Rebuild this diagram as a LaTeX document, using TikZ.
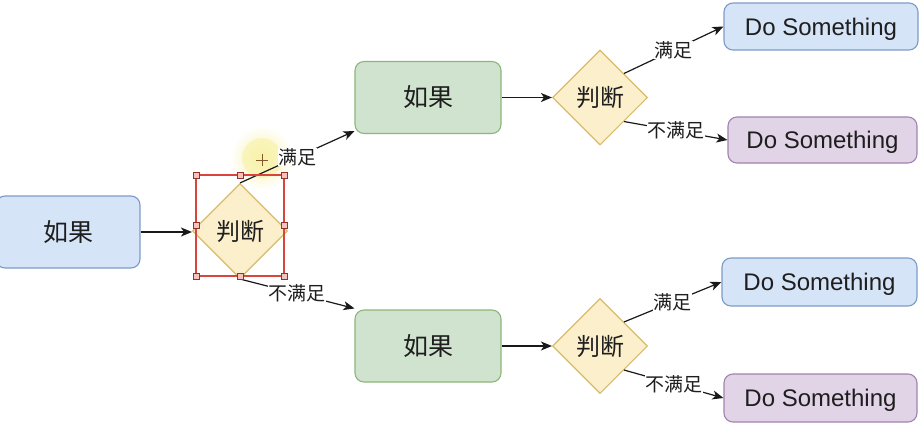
\documentclass[tikz,border=0pt]{standalone}
\usepackage{fontspec}
\setmainfont{Liberation Sans}
\newfontfamily\cjk{Noto Sans CJK SC}
\usetikzlibrary{shapes.geometric,arrows.meta,calc}
\definecolor{bluefill}{HTML}{D6E4F7}
\definecolor{blueline}{HTML}{7C9CC8}
\definecolor{greenfill}{HTML}{CFE3CE}
\definecolor{greenline}{HTML}{8DB77A}
\definecolor{yellowfill}{HTML}{FCEFCB}
\definecolor{yellowline}{HTML}{D8BC6A}
\definecolor{purplefill}{HTML}{E0D4E6}
\definecolor{purpleline}{HTML}{A184B0}
\definecolor{selred}{HTML}{D9443C}
\definecolor{handlefill}{HTML}{F2C4C0}
\definecolor{textdark}{HTML}{1E1E1E}
\definecolor{glow}{HTML}{F8F2A8}
\tikzset{
  box/.style={rectangle, rounded corners=9pt, line width=1.1pt, inner sep=0pt, text=textdark},
  ifbox/.style={box, font=\cjk\fontsize{25}{28}\selectfont},
  dobox/.style={box, text depth=0pt, font=\fontsize{24}{28}\selectfont},
  decide/.style={diamond, aspect=1, draw=yellowline, fill=yellowfill, line width=1.1pt,
     inner sep=0pt, minimum width=95pt, minimum height=95pt, text=textdark,
     font=\cjk\fontsize{24}{28}\selectfont},
  conn/.style={draw=black!90, line width=1.2pt, -{Stealth[length=11pt,width=9pt,inset=3pt]}},
  lab/.style={fill=white, inner sep=0.5pt, text=textdark, font=\cjk\fontsize{19}{21}\selectfont},
}
\begin{document}
\begin{tikzpicture}[x=1pt,y=-1pt]
\useasboundingbox (0,0) rectangle (922,423);
\clip (0,0) rectangle (922,423);
\fill[white] (0,0) rectangle (922,423);

% cursor glow
\shade[inner color=glow, outer color=white] (262,158) circle (32);
\fill[glow, opacity=0.6] (262,158) circle (20);

% nodes
\node[ifbox, draw=blueline, fill=bluefill, minimum width=144pt, minimum height=72pt] (r0) at (68,232) {如果};
\node[decide] (d1) at (240,231) {判断};
\node[ifbox, draw=greenline, fill=greenfill, minimum width=146pt, minimum height=72pt] (g1) at (428,97.5) {如果};
\node[ifbox, draw=greenline, fill=greenfill, minimum width=146pt, minimum height=72pt] (g2) at (428,346) {如果};
\node[decide] (d2) at (600,97.5) {判断};
\node[decide] (d3) at (600,346) {判断};
\node[dobox, draw=blueline, fill=bluefill, minimum width=194pt, minimum height=47pt] (s1) at (821,26.5) {Do Something};
\node[dobox, draw=purpleline, fill=purplefill, minimum width=189pt, minimum height=46pt] (s2) at (822.5,140) {Do Something};
\node[dobox, draw=blueline, fill=bluefill, minimum width=195pt, minimum height=48pt] (s3) at (819.5,282) {Do Something};
\node[dobox, draw=purpleline, fill=purplefill, minimum width=193pt, minimum height=48pt] (s4) at (820.5,398) {Do Something};

% connectors
\draw[conn] (r0.east) -- (r0.east -| d1.west);
\draw[conn] (d1.north) -- node[lab]{满足} ([yshift=3pt]g1.south west);
\draw[conn] (d1.south) -- node[lab]{不满足} ([yshift=1pt]g2.north west);
\draw[conn] (g1.east) -- (d2.west);
\draw[conn] (g2.east) -- (d3.west);
\draw[conn] (d2.north east) -- node[lab]{满足} (s1.west);
\draw[conn] (d2.south east) -- node[lab]{不满足} (s2.west);
\draw[conn] (d3.north east) -- node[lab]{满足} (s3.west);
\draw[conn] (d3.south east) -- node[lab]{不满足} (s4.west);

% cursor cross
\draw[line width=0.9pt, draw=brown!70!black] (256,160) -- (268,160) (262,154) -- (262,166);

% selection box
\draw[selred, line width=1.2pt] (196,175) rectangle (284,276);
\foreach \p in {(196,175),(240,175),(284,175),(196,225.5),(284,225.5),(196,276),(240,276),(284,276)}
  \filldraw[fill=handlefill, draw=selred!70!black, line width=0.6pt] \p +(-2.8,-2.8) rectangle +(2.8,2.8);
\end{tikzpicture}
\end{document}
